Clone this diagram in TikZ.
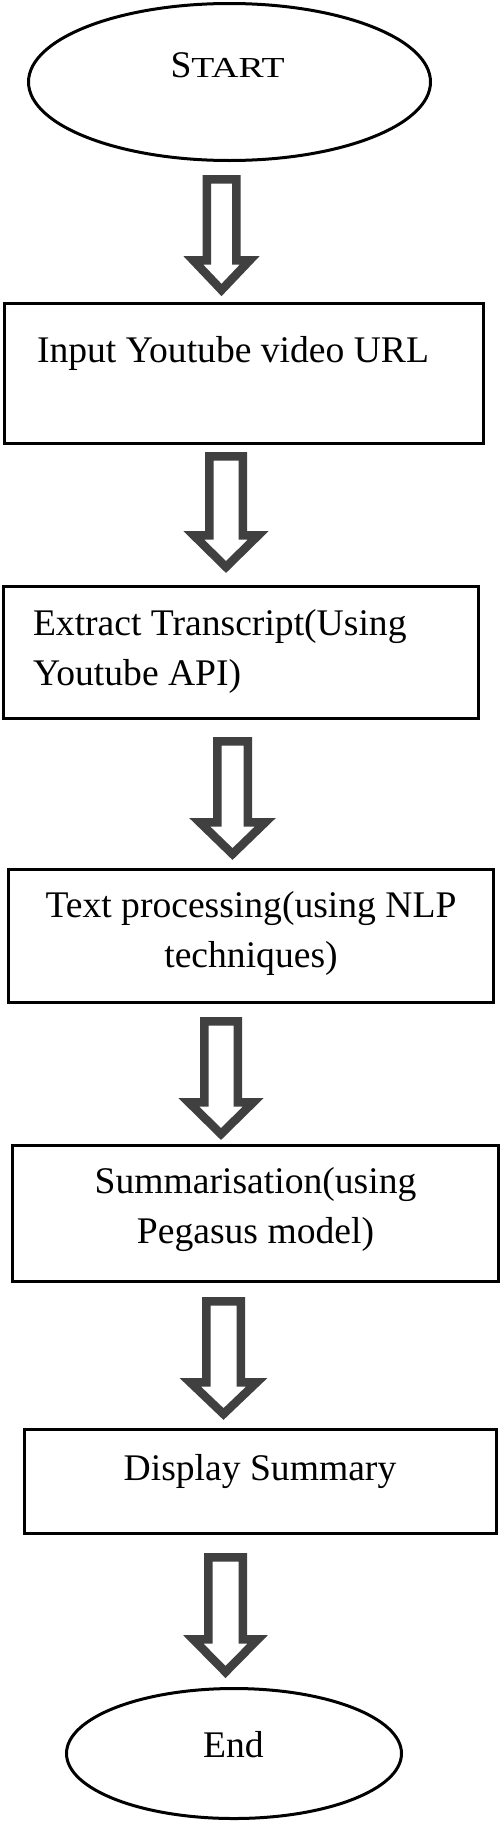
\documentclass[tikz,border=0pt]{standalone}
\usepackage{graphicx}
\usepackage{fontspec}
\setmainfont{Liberation Serif}
\usetikzlibrary{shapes.geometric}
\definecolor{arrgray}{HTML}{404040}
\tikzset{
  boxnode/.style={draw=black, line width=3pt, rectangle, inner sep=0pt, outer sep=0pt},
  ovalnode/.style={draw=black, line width=3pt, ellipse, inner sep=0pt, outer sep=0pt},
  lbl/.style={font=\fontsize{37.6}{50}\selectfont, inner sep=0pt, outer sep=0pt},
  barrow/.style={draw=arrgray, fill=white, line width=8.5pt, miter limit=12},
}
% cx, top, head-start, tip, shaft half width, head half width (outer)
\newcommand\blockarrow[6]{%
  \draw[barrow] ({#1-#5+4.25},{#2+4.25}) -- ({#1+#5-4.25},{#2+4.25})
    -- ({#1+#5-4.25},{#3+4.25}) -- ({#1+#6-10.2},{#3+4.25})
    -- ({#1},{#4-6}) -- ({#1-#6+10.2},{#3+4.25})
    -- ({#1-#5+4.25},{#3+4.25}) -- cycle;}
\begin{document}
\begin{tikzpicture}[x=1pt,y=-1pt]
\useasboundingbox[fill=white] (0,0) rectangle (501,1826);

% start
\node[ovalnode, minimum width=402pt, minimum height=157pt] (start) at (229.5,82) {};
\node[lbl, anchor=base west] (starttxt) at (170.5,77) {S\scalebox{1.3}[1]{\fontsize{29}{30}\selectfont TART}};

% box 1
\node[boxnode, minimum width=479pt, minimum height=140pt] (b1) at (244,373) {};
\node[lbl, anchor=base west] (t1) at (37,362) {Input Youtube video URL};

% box 2
\node[boxnode, minimum width=475pt, minimum height=132pt] (b2) at (241,652.5) {};
\node[lbl, anchor=base west, align=left] (t2) at (33,685) {Extract Transcript(Using\\Youtube API)};

% box 3
\node[boxnode, minimum width=485pt, minimum height=133pt] (b3) at (251,935.5) {};
\node[lbl, anchor=base, align=center] (t3) at (251,967) {Text processing(using NLP\\techniques)};

% box 4
\node[boxnode, minimum width=486pt, minimum height=136pt] (b4) at (255.5,1213.5) {};
\node[lbl, anchor=base, align=center] (t4) at (255.5,1243) {Summarisation(using\\Pegasus model)};

% box 5
\node[boxnode, minimum width=472pt, minimum height=104pt] (b5) at (260.5,1481.5) {};
\node[lbl, anchor=base] (t5) at (260,1480) {Display Summary};

% end
\node[ovalnode, minimum width=335pt, minimum height=130pt] (end) at (234,1753.5) {};
\node[lbl, anchor=base] (endtxt) at (233.5,1757) {End};

% block arrows
\blockarrow{221.5}{175}{256}{296}{19}{38.5}
\blockarrow{226}{452}{531}{573}{21}{42.5}
\blockarrow{232.5}{737}{818}{860}{19.5}{43}
\blockarrow{221}{1017}{1098}{1140}{21}{42.5}
\blockarrow{223.5}{1297}{1378}{1420}{21.5}{43.5}
\blockarrow{225.5}{1553}{1635}{1678}{21.5}{42.5}
\end{tikzpicture}
\end{document}
